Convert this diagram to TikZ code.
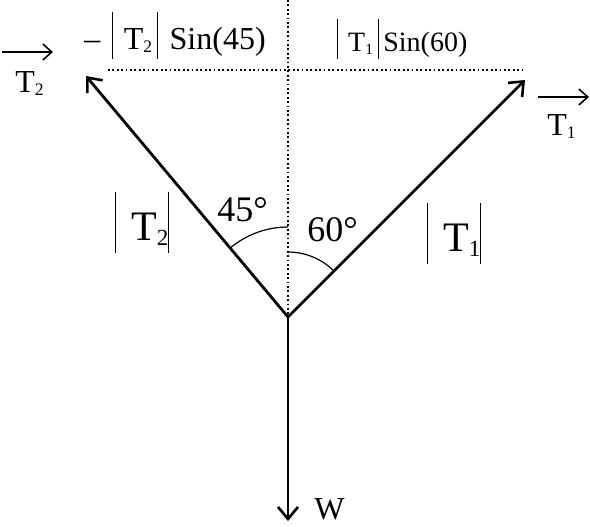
\documentclass[tikz,border=0pt]{standalone}
\usepackage{fontspec}
\setmainfont{Liberation Serif}
\usetikzlibrary{arrows.meta}
\newcommand\magbar{\rule[-0.3em]{0.5pt}{1.45em}}
\newcommand\lowsub[1]{\raisebox{-0.12em}{\scalebox{0.55}{#1}}}
\newcommand\gap{\hspace{0.35em}}
\tikzset{
  force/.style={line width=1.4pt,-{Straight Barb[length=6pt,width=10pt,line width=1.3pt]}},
  vecarrow/.style={line width=0.8pt,-{Straight Barb[length=4.5pt,width=8pt,line width=0.8pt]}},
  guide/.style={line width=0.9pt,dash pattern=on 0.9pt off 1.3pt},
  anglearc/.style={line width=0.6pt},
  lbl/.style={font=\fontsize{16}{18}\selectfont,inner sep=0pt,anchor=base west},
  mag/.style={font=\fontsize{21}{23}\selectfont,inner sep=0pt,anchor=base west},
}
\begin{document}
\begin{tikzpicture}[x=0.5pt,y=-0.5pt]
\useasboundingbox (0,0) rectangle (590,526);
\coordinate (o) at (288,317);    % O
\coordinate (t2) at (86,76);     % T2 tip
\coordinate (t1) at (525,80);    % T1 tip
\coordinate (w) at (288,521);    % W tip
\coordinate (top) at (288,0);
\coordinate (hl) at (108,70);
\coordinate (hr) at (525,70);
\coordinate (t2a) at (2,52);
\coordinate (t2b) at (53,52);
\coordinate (t1a) at (538,97);
\coordinate (t1b) at (589,97);

% guides
\draw[guide] (top) -- (o);
\draw[guide] (hl) -- (hr);

% forces
\draw[force] (o) -- (t2);
\draw[force] (o) -- (t1);
\draw[force] (o) -- (w);

% angles
\draw[anglearc] (o) ++(-90:90) arc[start angle=-90,end angle=-130,radius=90];
\draw[anglearc] (o) ++(-90:65) arc[start angle=-90,end angle=-45,radius=65];

% labels
\node[lbl] (t2comp) at (84,49) {–\gap\magbar\gap T\lowsub{2}\,\magbar\gap Sin(45)};
\node[lbl,font=\fontsize{14}{16}\selectfont] (t1comp) at (337,51) {\magbar\gap T\lowsub{1}\,\magbar\,Sin(60)};
\node[mag] (t2mag) at (115,240) {\magbar\gap T\lowsub{2}\magbar};
\node[mag] (t1mag) at (427,251) {\magbar\gap T\lowsub{1}\magbar};
\node[lbl,font=\fontsize{18}{20}\selectfont] (ang45) at (217,221) {45°};
\node[lbl,font=\fontsize{18}{20}\selectfont] (ang60) at (307,241) {60°};
\node[lbl] (wlbl) at (314,519) {W};
\node[lbl] (t2vec) at (15,92) {T\lowsub{2}};
\node[lbl] (t1vec) at (547,135) {T\lowsub{1}};
\draw[vecarrow] (t2a) -- (t2b);
\draw[vecarrow] (t1a) -- (t1b);
\end{tikzpicture}
\end{document}
